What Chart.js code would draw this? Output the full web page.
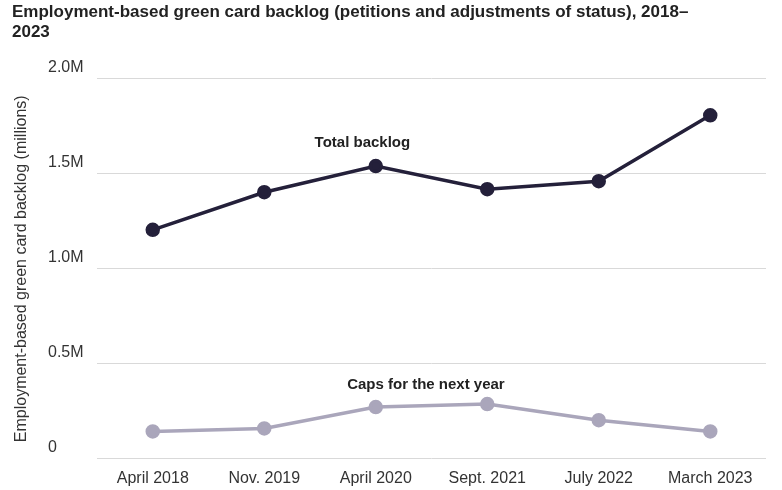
<!DOCTYPE html>
<html><head><meta charset="utf-8">
<script src="https://cdn.jsdelivr.net/npm/chart.js@4"></script>
<style>html,body{margin:0;padding:0;background:#fff}</style>
</head><body>
<canvas id="c" width="782" height="490"></canvas>
<script>
const categories = ["April 2018","Nov. 2019","April 2020","Sept. 2021","July 2022","March 2023"];
const totalBacklog = [1.205,1.403,1.541,1.419,1.461,1.808];
const capsNextYear = [0.144,0.160,0.272,0.288,0.203,0.144];
const yTicks = [0,0.5,1.0,1.5,2.0];
const yTickLabels = ["0","0.5M","1.0M","1.5M","2.0M"];
const annotations = [
  {text:"Total backlog", xi:1.88, y:1.665},
  {text:"Caps for the next year", xi:2.45, y:0.39}
];
const FONT = "'Liberation Sans',Arial,sans-serif";
const labelPlugin = {
  id:'lbl',
  afterDatasetsDraw(chart){
    const {ctx,scales:{x,y}} = chart;
    ctx.save();
    ctx.font = "bold 15px "+FONT;
    ctx.fillStyle = "#222";
    ctx.textAlign = "center";
    ctx.textBaseline = "middle";
    annotations.forEach(a=>{
      const px = x.getPixelForValue(Math.floor(a.xi)) + (a.xi%1)*(x.getPixelForValue(1)-x.getPixelForValue(0));
      ctx.fillText(a.text, px, y.getPixelForValue(a.y));
    });
    ctx.font = "16px "+FONT;
    ctx.fillStyle = "#333";
    ctx.textAlign = "left";
    ctx.textBaseline = "bottom";
    yTicks.forEach((v,i)=>{
      ctx.fillText(yTickLabels[i], 48, y.getPixelForValue(v)-3);
    });
    ctx.restore();
  }
};
new Chart(document.getElementById('c'),{
  type:'line',
  data:{labels:categories,datasets:[
    {data:totalBacklog,borderColor:'#24203a',backgroundColor:'#24203a',borderWidth:3.5,pointRadius:5.5,pointHoverRadius:5.5,tension:0},
    {data:capsNextYear,borderColor:'#aaa6bb',backgroundColor:'#aaa6bb',borderWidth:3.5,pointRadius:5.5,pointHoverRadius:5.5,tension:0}
  ]},
  options:{
    responsive:false,animation:false,
    layout:{padding:{left:12,right:16,top:0,bottom:0}},
    plugins:{legend:{display:false},tooltip:{enabled:false},
      title:{display:true,align:'start',text:["Employment-based green card backlog (petitions and adjustments of status), 2018–","2023"],
        font:{family:FONT,size:17,weight:'bold'},color:'#222',padding:{top:2,bottom:36}}},
    scales:{
      x:{offset:true,grid:{display:false},border:{display:false},
        ticks:{color:'#333',font:{family:FONT,size:16},padding:2}},
      y:{min:0,max:2.0,
        afterBuildTicks(s){s.ticks=yTicks.map(v=>({value:v}));},
        afterFit(s){s.width=85;},
        grid:{color:'#d9d9d9',drawTicks:false},border:{display:false},
        ticks:{display:false},
        title:{display:true,text:"Employment-based green card backlog (millions)",color:'#333',font:{family:FONT,size:16},padding:{top:0,bottom:0}}}
    }
  },
  plugins:[labelPlugin]
});
</script>
</body></html>
